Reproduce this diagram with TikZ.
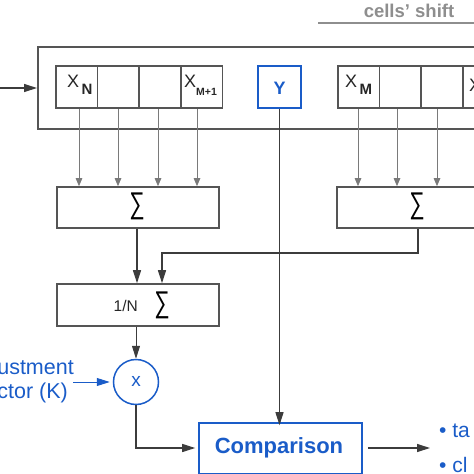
\documentclass[tikz,border=0pt]{standalone}
\usepackage{fontspec}
\setmainfont{Liberation Sans}
\usetikzlibrary{arrows.meta}
\definecolor{cblue}{HTML}{1A5CC8}
\definecolor{cgray}{HTML}{555555}
\definecolor{dgray}{HTML}{3C3C3C}
\definecolor{lgray}{HTML}{7A7A7A}
\definecolor{sgray}{HTML}{8E8E8E}
\newcommand{\fs}[1]{\fontsize{#1}{#1}\selectfont}
\begin{document}
\begin{tikzpicture}[x=1pt,y=-1pt,
  box/.style={draw=cgray,line width=1.6pt,inner sep=0pt},
  cell/.style={box,minimum width=41.6pt,minimum height=42pt},
  sumbox/.style={box,minimum width=162pt,minimum height=41pt},
  lbl/.style={inner sep=0pt,text=black!85},
  tap/.style={draw=lgray,line width=0.9pt,-{Triangle[length=8pt,width=6.5pt]}},
  arr/.style={draw=dgray,line width=1.2pt,-{Triangle[length=13pt,width=8pt]}},
  barr/.style={draw=cblue,line width=0.9pt,-{Triangle[length=13pt,width=8pt]}},
  sig/.style={inner sep=0pt,text=black}
]
\useasboundingbox (0,0) rectangle (474,474);
% title
\node[inner sep=0pt,text=sgray] (shift) at (409,11) {\fs{18.5}\bfseries cells' shift};
\coordinate (sl) at (318,23);
\coordinate (sr) at (480,23);
\draw[draw=sgray,line width=1.6pt] (sl) -- (sr);
% outer register box
\node[box,minimum width=460pt,minimum height=82pt,anchor=north west] (reg) at (37,46) {};
\coordinate (in) at (-5,88);
\draw[arr] (in) -- (reg.west |- in);
% left cells
\node[cell] (c1) at (76.8,87) {};
\node[cell] (c2) at (118.4,87) {};
\node[cell] (c3) at (160,87) {};
\node[cell] (c4) at (201.6,87) {};
% Y cell
\node[box,draw=cblue,minimum width=43pt,minimum height=42pt] (y) at (279.5,87) {};
\node[inner sep=0pt,text=cblue] (ylbl) at (279.5,88) {\fs{18}\bfseries Y};
% right cells
\node[cell] (r1) at (358.8,87) {};
\node[cell] (r2) at (400.4,87) {};
\node[cell] (r3) at (442,87) {};
\node[cell] (r4) at (483.6,87) {};
% cell labels
\node[lbl,anchor=west] (lxn) at (67,85) {\fs{18}X\raisebox{-7pt}{\fs{15}\bfseries\,N}};
\node[lbl,anchor=west] (lxm1) at (184,85) {\fs{18}X\raisebox{-8pt}{\fs{10.5}\bfseries M+1}};
\node[lbl,anchor=west] (lxm) at (345,85) {\fs{18}X\raisebox{-7pt}{\fs{15}\bfseries\,M}};
\node[lbl,anchor=west] (lx1) at (469,85) {\fs{18}X};
% sum boxes
\node[sumbox] (sumL) at (138,207.5) {};
\node[sig] (sgL) at (137,206) {\scalebox{0.9}[1.25]{\fs{24}∑}};
\node[sumbox] (sumR) at (418,207.5) {};
\node[sig] (sgR) at (417,206) {\scalebox{0.9}[1.25]{\fs{24}∑}};
% taps
\draw[tap] ([xshift=2.2pt]c1.south) -- ([xshift=2.2pt]c1.south |- sumL.north);
\draw[tap] ([xshift=-0.4pt]c2.south) -- ([xshift=-0.4pt]c2.south |- sumL.north);
\draw[tap] ([xshift=-2pt]c3.south) -- ([xshift=-2pt]c3.south |- sumL.north);
\draw[tap] ([xshift=-4.6pt]c4.south) -- ([xshift=-4.6pt]c4.south |- sumL.north);
\draw[tap] ([xshift=-0.8pt]r1.south) -- ([xshift=-0.8pt]r1.south |- sumR.north);
\draw[tap] ([xshift=-3.4pt]r2.south) -- ([xshift=-3.4pt]r2.south |- sumR.north);
\draw[tap] ([xshift=-5pt]r3.south) -- ([xshift=-5pt]r3.south |- sumR.north);
% average box
\node[sumbox,minimum height=42pt] (avg) at (138,305) {};
\node[lbl,anchor=east] (avgl) at (138,306) {\fs{15.5}1/N};
\node[sig] (sgA) at (162,305) {\scalebox{0.9}[1.25]{\fs{24}∑}};
\draw[arr] ([xshift=-1pt]sumL.south) -- ([xshift=-1pt]avg.north);
\coordinate (bend1) at (418,253);
\coordinate (bend2) at (162,253);
\draw[arr] (sumR.south) -- (bend1) -- (bend2) -- (bend2 |- avg.north);
% multiplier
\node[circle,draw=cblue,line width=1.5pt,minimum size=45pt,inner sep=0pt] (mul) at (136,382) {};
\node[inner sep=0pt,text=cblue] (mull) at (136,381) {\fs{19}x};
\draw[arr,line width=1pt] ([xshift=-2pt]avg.south) -- ([xshift=-2pt]avg.south |- mul.north);
\node[inner sep=0pt,text=cblue,align=right,anchor=east,font=\fontsize{21.5}{24}\selectfont] (kf) at (74,380.5) {Adjustment\\factor (K)\hspace*{6pt}};
\coordinate (kin) at (73,382);
\draw[barr] (kin) -- ([xshift=-3pt]mul.west);
% comparison
\node[box,draw=cblue,minimum width=163pt,minimum height=51pt] (cmp) at (280.5,448.5) {};
\node[inner sep=0pt,text=cblue] (cmpl) at (279,448) {\fs{22}\bfseries Comparison};
\coordinate (mb) at (136,448);
\draw[arr] (mul.south) -- (mb) -- ([xshift=-3pt]cmp.west |- mb);
\draw[arr] (y.south) -- ([yshift=-3pt]y.south |- cmp.north);
% output
\coordinate (out) at (430,448);
\draw[arr] ([xshift=5pt]cmp.east |- mb) -- (out);
\node[inner sep=0pt,text=cblue,anchor=west] (b1) at (439,431) {\fs{21}• ta};
\node[inner sep=0pt,text=cblue,anchor=west] (b2) at (439,465) {\fs{21}• cl};
\end{tikzpicture}
\end{document}
